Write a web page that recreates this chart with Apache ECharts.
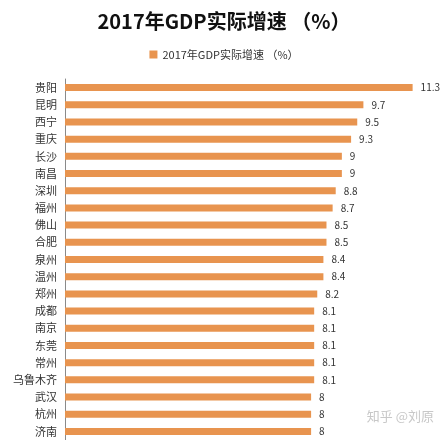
<!DOCTYPE html>
<html>
<head>
<meta charset="utf-8">
<script src="https://cdn.jsdelivr.net/npm/echarts@6/dist/echarts.min.js"></script>
<style>
  html, body { margin: 0; padding: 0; background: #fff; }
  #main { width: 448px; height: 440px; }
</style>
</head>
<body>
<div id="main"></div>
<script>
var cities = ['贵阳', '昆明', '西宁', '重庆', '长沙', '南昌', '深圳', '福州', '佛山', '合肥', '泉州',
  '温州', '郑州', '成都', '南京', '东莞', '常州', '乌鲁木齐', '武汉', '杭州', '济南']
var growth = [11.3, 9.7, 9.5, 9.3, 9, 9, 8.8, 8.7, 8.5, 8.5, 8.4, 8.4, 8.2, 8.1, 8.1, 8.1, 8.1, 8.1, 8, 8, 8]
var seriesName = '2017年GDP实际增速 （%）'

var font = '"Noto Sans CJK SC", sans-serif'

var chart = echarts.init(document.getElementById('main'), null, { renderer: 'canvas' })

var option = {
  backgroundColor: '#ffffff',
  animation: false,
  textStyle: { fontFamily: font },
  title: {
    text: '2017年GDP实际增速 （%）',
    left: 'center',
    top: 6,
    textStyle: { fontSize: 20, fontWeight: 'bold', color: '#111', fontFamily: font }
  },
  legend: {
    top: 44,
    left: 'center',
    itemWidth: 8,
    itemHeight: 8,
    itemGap: 4,
    icon: 'rect',
    textStyle: { fontSize: 11, color: '#333', fontFamily: font },
    data: [seriesName]
  },
  grid: { left: 65, right: 20, top: 79, height: 366, containLabel: false },
  xAxis: {
    type: 'value',
    min: 0,
    max: 11.8,
    show: false
  },
  yAxis: {
    type: 'category',
    inverse: true,
    data: cities,
    axisLine: { show: true, lineStyle: { color: '#8a8a8a', width: 1 } },
    axisTick: { show: false },
    axisLabel: { fontSize: 11, color: '#333', margin: 8, fontFamily: font }
  },
  series: [
    {
      name: seriesName,
      type: 'bar',
      data: growth,
      barWidth: 7,
      itemStyle: { color: '#e8944f' },
      label: {
        show: true,
        position: 'right',
        distance: 8,
        fontSize: 10,
        color: '#333',
        fontFamily: font
      }
    }
  ],
  graphic: [
    {
      type: 'text',
      right: 14,
      top: 410,
      style: { text: '知乎 @刘原', fontSize: 13, fill: '#c8c8c8', fontFamily: font }
    }
  ]
}

chart.setOption(option)
</script>
</body>
</html>
